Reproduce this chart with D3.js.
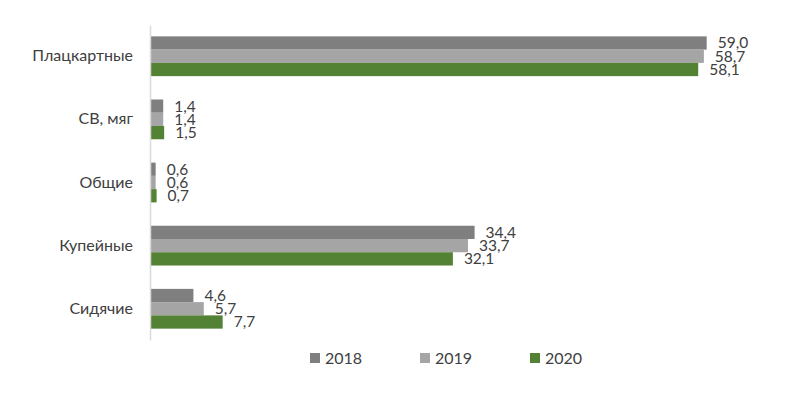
<!DOCTYPE html>
<html>
<head>
<meta charset="utf-8">
<script src="https://cdn.jsdelivr.net/npm/d3@7"></script>
<style>
  body { margin: 0; background: #fff; }
  text { font-family: Lato, "Open Sans", sans-serif; fill: #404040; }
</style>
</head>
<body>
<div id="chart"></div>
<script>
// Данные
const categories = ["Плацкартные", "СВ, мяг", "Общие", "Купейные", "Сидячие"];
const years = ["2018", "2019", "2020"];
const values2018 = [59.0, 1.4, 0.6, 34.4, 4.6];
const values2019 = [58.7, 1.4, 0.6, 33.7, 5.7];
const values2020 = [58.1, 1.5, 0.7, 32.1, 7.7];
const colors = ["#7f7f7f", "#a5a5a5", "#548235"];

const WIDTH = 790;
const HEIGHT = 399;
const margin = { top: 25, right: 70, bottom: 59, left: 150 };

const series = [values2018, values2019, values2020];
const data = categories.map((c, i) => ({ cat: c, vals: series.map(s => s[i]) }));

const svg = d3.select("#chart").append("svg")
    .attr("width", WIDTH)
    .attr("height", HEIGHT);

const g = svg.append("g")
    .attr("transform", `translate(${margin.left}, ${margin.top})`);

// Шкалы
const x = d3.scaleLinear()
    .domain([0, 59])
    .range([0, 556.7]);

const y = d3.scaleBand()
    .domain(categories)
    .range([0, HEIGHT - margin.top - margin.bottom])
    .paddingInner(0.37)
    .paddingOuter(0.18);

const ySub = d3.scaleBand()
    .domain(years)
    .range([0, y.bandwidth()]);

// Группы категорий
const groups = g.selectAll(".cat")
    .data(data)
    .enter().append("g")
    .attr("class", "cat")
    .attr("transform", d => `translate(0, ${y(d.cat)})`);

groups.selectAll("rect")
    .data(d => d.vals.map((v, i) => ({ v, year: years[i], i })))
    .enter().append("rect")
    .attr("x", 0)
    .attr("y", d => ySub(d.year))
    .attr("width", d => x(d.v))
    .attr("height", ySub.bandwidth())
    .attr("fill", d => colors[d.i]);

// Подписи значений
groups.selectAll(".lbl")
    .data(d => d.vals.map((v, i) => ({ v, year: years[i], i })))
    .enter().append("text")
    .attr("class", "lbl")
    .attr("x", d => x(d.v) + 11)
    .attr("y", d => ySub(d.year) + ySub.bandwidth() / 2)
    .attr("dy", "0.35em")
    .style("font-size", "15.5px")
    .text(d => d3.format(".1f")(d.v).replace(".", ","));

// Ось категорий
const yAxis = g.append("g")
    .call(d3.axisLeft(y).tickSize(0).tickPadding(17));
yAxis.select(".domain")
    .attr("stroke", "#d9d9d9")
    .attr("stroke-width", 1.5);
yAxis.selectAll("text")
    .style("font-size", "16px")
    .style("font-family", "Lato, 'Open Sans', sans-serif")
    .attr("fill", "#404040");

// Легенда
const legendX = d3.scaleOrdinal()
    .domain(years)
    .range([310, 420, 530]);

const legend = svg.selectAll(".legend")
    .data(years)
    .enter().append("g")
    .attr("class", "legend")
    .attr("transform", d => `translate(${legendX(d)}, 358)`);

legend.append("rect")
    .attr("x", 0)
    .attr("y", -5)
    .attr("width", 10)
    .attr("height", 10)
    .attr("fill", (d, i) => colors[i]);

legend.append("text")
    .attr("x", 15)
    .attr("y", 0)
    .attr("dy", "0.35em")
    .style("font-size", "16px")
    .text(d => d);
</script>
</body>
</html>
